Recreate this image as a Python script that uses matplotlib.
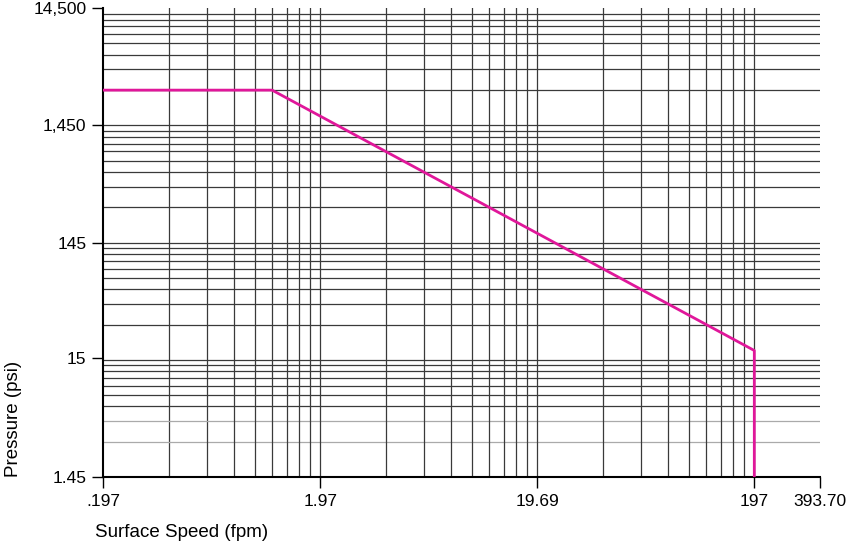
import matplotlib
matplotlib.use("Agg")
import matplotlib.pyplot as plt
import numpy as np

# surface speed (fpm) vs pressure (psi)
speed = [0.197, 1.182, 197, 197]
pressure = [2900, 2900, 17.4, 1.45]

x_ticks = [0.197, 1.97, 19.69, 197, 393.70]
x_labels = ['.197', '1.97', '19.69', '197', '393.70']
y_ticks = [1.45, 15, 145, 1450, 14500]
y_labels = ['1.45', '15', '145', '1,450', '14,500']

plt.rcParams['font.family'] = ['Liberation Sans', 'DejaVu Sans']
fig = plt.figure(figsize=(8.6, 5.48), dpi=100)
ax = fig.add_axes([0.12, 0.1296, 0.833, 0.8554])
ax.set_xscale('log')
ax.set_yscale('log')
ax.set_xlim(0.197, 393.70)
ax.set_ylim(1.45, 14500)

# grid lines at multiples of the decade starting values
for n in range(4):
    for k in range(1, 10):
        v = k * 0.197 * 10 ** n
        if 0.197 < v < 393.70:
            ax.axvline(v, color='#3a3a3a', lw=0.9, zorder=1)
        w = k * 1.45 * 10 ** n
        if 1.45 < w < 14500:
            c = '#aaaaaa' if (n == 0 and k in (2, 3)) else '#3a3a3a'
            ax.axhline(w, color=c, lw=0.9, zorder=1)

ax.plot(speed, pressure, color='#e0179a', lw=2, zorder=3)

ax.set_xticks(x_ticks)
ax.set_xticklabels(x_labels)
ax.set_yticks(y_ticks)
ax.set_yticklabels(y_labels)
ax.minorticks_off()
ax.tick_params(axis='both', direction='out', length=8, width=1, labelsize=12.5, pad=4)
for s in ['top', 'right']:
    ax.spines[s].set_visible(False)
for s in ['left', 'bottom']:
    ax.spines[s].set_linewidth(1.5)

ax.set_xlabel('Surface Speed (fpm)', fontsize=13.5, loc='left', labelpad=10)
ax.xaxis.set_label_coords(-0.012, -0.1, transform=ax.transAxes)
ax.xaxis.label.set_ha('left')
ax.set_ylabel('Pressure (psi)', fontsize=13.5, loc='bottom', labelpad=8)

fig.savefig('out.png', dpi=100)
